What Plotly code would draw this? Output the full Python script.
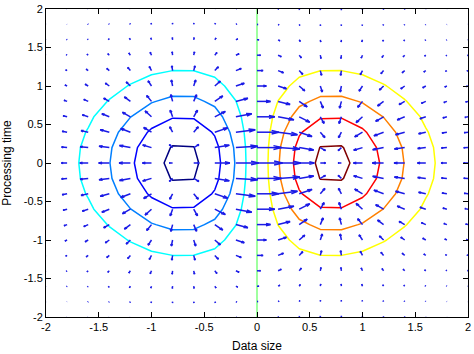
import numpy as np
import plotly.graph_objects as go
import plotly.figure_factory as ff

# grid coordinates (data units)
grid_x = [-2.0, -1.8, -1.6, -1.4, -1.2, -1.0, -0.8, -0.6, -0.4, -0.2, 0.0,
          0.2, 0.4, 0.6, 0.8, 1.0, 1.2, 1.4, 1.6, 1.8, 2.0]
grid_y = list(grid_x)

# separable profiles of the surface
profile_x = [-0.0366, -0.0705, -0.1237, -0.1972, -0.2843, -0.3679, -0.4218, -0.4186,
             -0.3409, -0.1922, 0.0, 0.1922, 0.3409, 0.4186, 0.4218, 0.3679,
             0.2843, 0.1972, 0.1237, 0.0705, 0.0366]
profile_y = [0.0183, 0.0392, 0.0773, 0.1409, 0.2369, 0.3679, 0.5273, 0.6977, 0.8521,
             0.9608, 1.0, 0.9608, 0.8521, 0.6977, 0.5273, 0.3679, 0.2369, 0.1409,
             0.0773, 0.0392, 0.0183]

contour_levels = [-0.4, -0.3, -0.2, -0.1, 0.0, 0.1, 0.2, 0.3, 0.4]

tick_vals = [-2, -1.5, -1, -0.5, 0, 0.5, 1, 1.5, 2]
tick_text = ["-2", "-1.5", "-1", "-0.5", "0", "0.5", "1", "1.5", "2"]

x_label = "Data size"
y_label = "Processing time"

# ---- build table
X = np.array(grid_x)
Y = np.array(grid_y)
Z = np.outer(np.array(profile_y), np.array(profile_x))  # rows = y, cols = x
dZdy, dZdx = np.gradient(Z, 0.2, 0.2)

# MATLAB-style autoscale
n = len(grid_x)
delx = (X.max() - X.min()) / n
dely = (Y.max() - Y.min()) / n
del2 = delx ** 2 + dely ** 2
maxlen = np.sqrt((dZdx ** 2 + dZdy ** 2) / del2).max()
scale = 0.9 / maxlen

XX, YY = np.meshgrid(X, Y)

jet = [[0.0, "rgb(0,0,128)"], [0.125, "rgb(0,0,255)"], [0.375, "rgb(0,255,255)"],
       [0.625, "rgb(255,255,0)"], [0.875, "rgb(255,0,0)"], [1.0, "rgb(128,0,0)"]]

zmin, zmax = float(Z.min()), float(Z.max())

fig = go.Figure()
fig.add_trace(go.Contour(
    x=grid_x, y=grid_y, z=Z,
    zmin=zmin, zmax=zmax, colorscale=jet, showscale=False,
    contours=dict(coloring="lines", start=contour_levels[0], end=contour_levels[-1],
                  size=0.1, showlabels=False),
    line=dict(width=1.5, smoothing=0),
    hoverinfo="skip",
))

q = ff.create_quiver(XX.ravel(), YY.ravel(), dZdx.ravel(), dZdy.ravel(),
                     scale=scale, arrow_scale=0.348, angle=float(np.arctan(0.33)),
                     line=dict(color="#1a1ae6", width=1.5))
for tr in q.data:
    tr.showlegend = False
    tr.hoverinfo = "skip"
    fig.add_trace(tr)

axis_common = dict(
    range=[-2, 2], tickvals=tick_vals, ticktext=tick_text,
    ticks="inside", ticklen=5, tickcolor="black", tickwidth=1,
    showline=True, linecolor="black", linewidth=1, mirror="allticks",
    showgrid=False, zeroline=False, ticklabeloverflow="allow",
    tickfont=dict(family="Liberation Sans, Arial", size=11, color="black"),
)

title_font = dict(family="Liberation Sans, Arial", size=12, color="black")

fig.update_layout(
    width=474, height=354,
    margin=dict(l=46, r=3, t=5, b=34),
    paper_bgcolor="white", plot_bgcolor="white",
    showlegend=False,
    xaxis=dict(**axis_common, title=dict(text=x_label, standoff=9, font=title_font)),
    yaxis=dict(**axis_common, title=dict(text=y_label, standoff=10, font=title_font)),
)

fig.write_html("out.html")
